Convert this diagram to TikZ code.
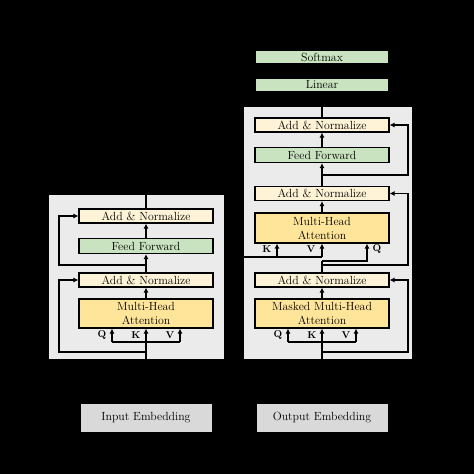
\documentclass[tikz,border=0pt]{standalone}
\usetikzlibrary{arrows.meta}
\definecolor{bgblack}{HTML}{000000}
\definecolor{panel}{HTML}{EBEBEB}
\definecolor{addnorm}{HTML}{FEF3D6}
\definecolor{ffgreen}{HTML}{C9E3C0}
\definecolor{attn}{HTML}{FFE599}
\definecolor{embed}{HTML}{D9D9D9}
\tikzset{
  blk/.style={draw=black, line width=1.1pt, minimum width=134pt, inner sep=0pt, align=center,
    font=\fontsize{11.8}{14}\selectfont},
  anbox/.style={blk, fill=addnorm, minimum height=14pt},
  ffbox/.style={blk, fill=ffgreen, minimum height=15pt},
  attbox/.style={blk, fill=attn, minimum height=29pt},
  embbox/.style={draw=black, line width=1pt, fill=embed, minimum width=132pt, minimum height=29pt, inner sep=0pt,
    font=\fontsize{11.8}{14}\selectfont},
  conn/.style={line width=1.4pt, draw=black},
  arr/.style={conn, -{Latex[length=5pt,width=5pt]}},
  qkv/.style={font=\fontsize{10}{11}\selectfont\bfseries, inner sep=0pt},
  panelbox/.style={fill=panel, draw=none}
}
\begin{document}
\begin{tikzpicture}[x=1pt,y=-1pt]
\fill[bgblack] (0,0) rectangle (474,474);
\useasboundingbox (0,0) rectangle (474,474);
% panels
\fill[panel] (49,194.5) rectangle (224,358.5);
\fill[panel] (244,107) rectangle (412,358.5);
% encoder nodes
\node[embbox] (inemb) at (146,417.5) {Input Embedding};
\node[attbox] (emha) at (146,313.5) {Multi-Head\\Attention};
\node[anbox] (ean1) at (146,280) {Add \& Normalize};
\node[ffbox] (eff) at (146,246) {Feed Forward};
\node[anbox] (ean2) at (146,216) {Add \& Normalize};
% decoder nodes
\node[embbox] (outemb) at (322,417.5) {Output Embedding};
\node[attbox] (dmmha) at (322,313.5) {Masked Multi-Head\\Attention};
\node[anbox] (dan1) at (322,280) {Add \& Normalize};
\node[attbox, minimum height=30pt] (dmha) at (322,228) {Multi-Head\\Attention};
\node[anbox] (dan2) at (322,193.5) {Add \& Normalize};
\node[ffbox] (dff) at (322,155) {Feed Forward};
\node[anbox] (dan3) at (322,125) {Add \& Normalize};
\node[ffbox, minimum height=14pt] (lin) at (322,85) {Linear};
\node[ffbox, minimum height=14pt] (soft) at (322,57) {Softmax};
% coordinates
\coordinate (ej) at (146,342);
\coordinate (eq) at (112,342);
\coordinate (ev) at (180,342);
\coordinate (er1) at (146,352);
\coordinate (er1c) at (59,352);
\coordinate (er2) at (146,265);
\coordinate (er2c) at (59,265);
\coordinate (eout1) at (146,185);
\coordinate (eout2) at (234,185);
\coordinate (eout3) at (234,257);
\coordinate (dk) at (277,257);
\coordinate (dv) at (322,257);
\coordinate (dj) at (322,342);
\coordinate (dq) at (288,342);
\coordinate (dvv) at (356,342);
\coordinate (dr1) at (322,352);
\coordinate (dr1c) at (408,352);
\coordinate (dsplit) at (322,261);
\coordinate (dqb) at (367,261);
\coordinate (dr2) at (322,265);
\coordinate (dr2c) at (408,265);
\coordinate (dr3) at (322,175);
\coordinate (dr3c) at (408,175);
% encoder connectors
\draw[conn] (inemb.north) -- (ej);
\draw[conn] (eq) -- (ev);
\draw[arr] (eq) -- (eq |- emha.south);
\draw[arr] (ej) -- (emha.south);
\draw[arr] (ev) -- (ev |- emha.south);
\draw[arr] (er1) -- (er1c) -- (er1c |- ean1.west) -- (ean1.west);
\draw[arr] (emha.north) -- (ean1.south);
\draw[arr] (ean1.north) -- (eff.south);
\draw[arr] (er2) -- (er2c) -- (er2c |- ean2.west) -- (ean2.west);
\draw[arr] (eff.north) -- (ean2.south);
\draw[conn] (ean2.north) -- (eout1) -- (eout2) -- (eout3) -- (dv);
\draw[arr] (dk) -- (dk |- dmha.south);
\draw[arr] (dv) -- (dmha.south);
% decoder connectors
\draw[conn] (outemb.north) -- (dj);
\draw[conn] (dq) -- (dvv);
\draw[arr] (dq) -- (dq |- dmmha.south);
\draw[arr] (dj) -- (dmmha.south);
\draw[arr] (dvv) -- (dvv |- dmmha.south);
\draw[arr] (dr1) -- (dr1c) -- (dr1c |- dan1.east) -- (dan1.east);
\draw[arr] (dmmha.north) -- (dan1.south);
\draw[conn] (dan1.north) -- (dsplit);
\draw[arr] (dsplit) -- (dqb) -- (dqb |- dmha.south);
\draw[arr] (dr2) -- (dr2c) -- (dr2c |- dan2.east) -- (dan2.east);
\draw[arr] (dmha.north) -- (dan2.south);
\draw[arr] (dan2.north) -- (dff.south);
\draw[arr] (dr3) -- (dr3c) -- (dr3c |- dan3.east) -- (dan3.east);
\draw[arr] (dff.north) -- (dan3.south);
\draw[arr] (dan3.north) -- (lin.south);
\draw[arr] (lin.north) -- (soft.south);
% labels
\node[qkv] (lq1) at (102,335) {Q};
\node[qkv] (lk1) at (136,335) {K};
\node[qkv] (lv1) at (170,335) {V};
\node[qkv] (lk2) at (267,249) {K};
\node[qkv] (lv2) at (311,249) {V};
\node[qkv] (lq2) at (377,249) {Q};
\node[qkv] (lq3) at (278,335) {Q};
\node[qkv] (lk3) at (312,335) {K};
\node[qkv] (lv3) at (346,335) {V};
\end{tikzpicture}
\end{document}
